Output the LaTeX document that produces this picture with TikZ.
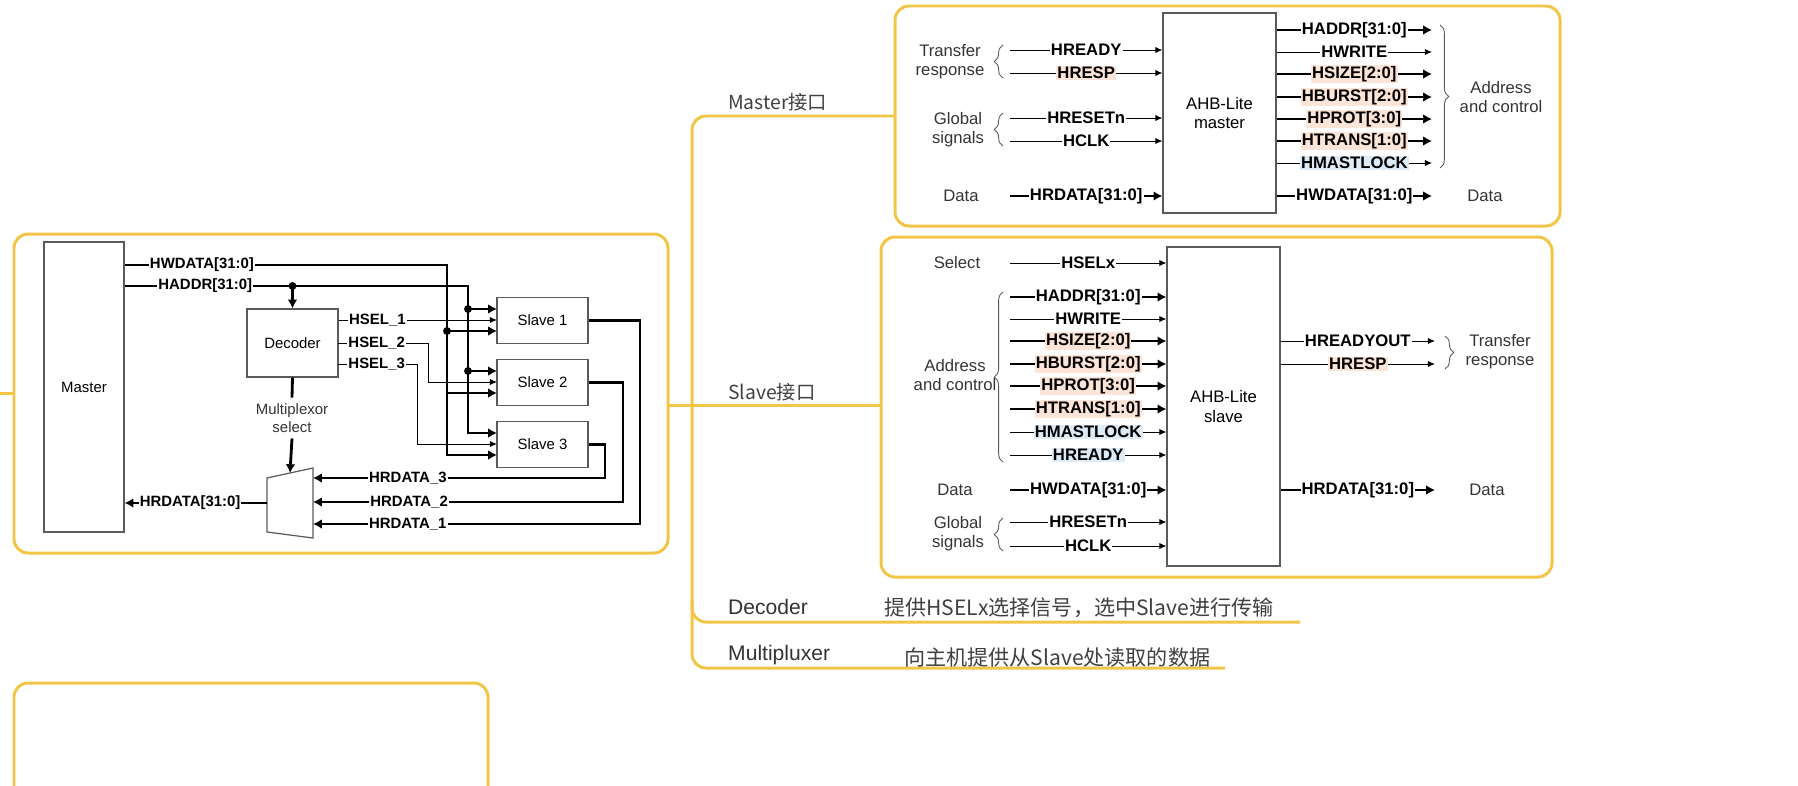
\documentclass[tikz,border=0pt]{standalone}
\usepackage{fontspec}
\setmainfont{Liberation Sans}
\newfontfamily\cjk{Noto Sans CJK SC}
\usetikzlibrary{positioning, arrows.meta, decorations.pathreplacing}
\definecolor{mapline}{RGB}{242,197,70}
\definecolor{hlo}{RGB}{252,228,214}
\definecolor{hlb}{RGB}{221,235,247}
\definecolor{boxline}{RGB}{90,90,90}
\tikzset{
  box/.style={draw=boxline, line width=0.7pt, inner sep=0pt, align=center, font=\fontsize{8.5}{10}\selectfont},
  sig/.style={font=\bfseries\fontsize{8.5}{10}\selectfont, fill=white, inner sep=0.6pt},
  rsig/.style={font=\bfseries\fontsize{9.5}{11}\selectfont, fill=white, inner sep=0.6pt},
  txt/.style={align=center, font=\fontsize{8.5}{10}\selectfont, text=black!80},
  rtxt/.style={align=center, font=\fontsize{9.5}{11}\selectfont, text=black!80},
  thin/.style={line width=0.5pt, -{Latex[length=4pt,width=3.5pt]}},
  bus/.style={line width=1.6pt, -{Latex[length=5pt,width=5.5pt]}},
  wire/.style={line width=1.6pt},
  dot/.style={circle, fill, inner sep=0pt, minimum size=4.5pt},
  branch/.style={draw=mapline, line width=1.7pt, rounded corners=8pt},
  topic/.style={anchor=west, font=\fontsize{12}{14}\selectfont, text=black!80},
  note/.style={anchor=west, font=\cjk\fontsize{12}{14}\selectfont, text=black!75},
  grp/.style={decorate, decoration={brace, amplitude=5pt}, line width=0.5pt, draw=boxline},
}
\begin{document}
\begin{tikzpicture}[x=0.02cm, y=-0.02cm]
\useasboundingbox (0,0) rectangle (1798,785);

% mind map branches
\draw[branch] (14,553) rectangle (668,234);
\draw[branch] (0,393) -- (14,393);
\draw[branch] (668,405) -- (692,405);
\draw[branch] (895,116) -| (692,622) -- (1300,622);
\draw[branch] (692,600) |- (1225,668);
\draw[branch] (692,405) -- (881,405);
\draw[branch] (895,6) rectangle (1560,226);
\draw[branch] (881,237) rectangle (1552,577);
\draw[branch] (14,800) |- (488,683) -- (488,800);
\node[note, font=\cjk\fontsize{11}{13}\selectfont] (tmaster) at (722,102) {Master接口};
\node[note, font=\cjk\fontsize{11}{13}\selectfont] (tslave) at (722,392) {Slave接口};
\node[topic] (tdec) at (722,607) {Decoder};
\node[note] (ndec) at (878,608) {提供HSELx选择信号，选中Slave进行传输};
\node[topic] (tmux) at (722,655) {Multipluxer};
\node[note] (nmux) at (898,657) {向主机提供从Slave处读取的数据};

% left: bus system
\node[box, minimum width=1.6cm, minimum height=5.8cm] (master) at (84,387) {Master};
\node[box, minimum width=1.82cm, minimum height=1.36cm] (decoder) at (292.5,343) {Decoder};
\node[box, minimum width=1.82cm, minimum height=0.92cm] (slave1) at (542.5,320.5) {Slave 1};
\node[box, minimum width=1.82cm, minimum height=0.92cm] (slave2) at (542.5,382.5) {Slave 2};
\node[box, minimum width=1.82cm, minimum height=0.92cm] (slave3) at (542.5,444.5) {Slave 3};
\draw[draw=boxline, line width=0.7pt] (267,478) -- (313,468) -- (313,538) -- (267,532) -- cycle;
\coordinate (muxt) at (290,473);
\coordinate (muxo) at (267,503);
\coordinate (wd) at (447,265);
\coordinate (ad) at (468,286);
\foreach \s/\y in {1/309, 2/371, 3/433} {
  \coordinate (s\s a) at (497,\y);
  \coordinate (s\s s) at (497,\y+11);
  \coordinate (s\s d) at (497,\y+22);
}
\draw[bus] (master.east |- wd) -- node[sig, pos=0.24] {HWDATA[31:0]} (wd) |- (s3d);
\draw[bus] (master.east |- ad) -- node[sig, pos=0.235] {HADDR[31:0]} (ad) |- (s3a);
\draw[bus] (wd |- s1d) -- (s1d);
\draw[bus] (wd |- s2d) -- (s2d);
\draw[bus] (ad |- s1a) -- (s1a);
\draw[bus] (ad |- s2a) -- (s2a);
\draw[bus] (decoder.north |- ad) -- (decoder.north);
\node[dot] at (decoder.north |- ad) {};
\node[dot] at (wd |- s1d) {};
\node[dot] at (ad |- s1a) {};
\node[dot] at (ad |- s2a) {};
\draw[thin] (decoder.east |- s1s) -- node[sig, pos=0.245] {HSEL\_1} (s1s);
\draw[thin] (338,343) -- node[sig, pos=0.43] {HSEL\_2} (428,343) |- (s2s);
\draw[thin] (338,364) -- node[sig, pos=0.49] {HSEL\_3} (417,364) |- (s3s);
\coordinate (r3) at (605,478);
\coordinate (r2) at (623,502);
\coordinate (r1) at (640,524);
\draw[bus] (slave3.east) -| (r3) -- node[sig, pos=0.675] {HRDATA\_3} (313,478);
\draw[bus] (slave2.east) -| (r2) -- node[sig, pos=0.69] {HRDATA\_2} (313,502);
\draw[bus] (slave1.east) -| (r1) -- node[sig, pos=0.71] {HRDATA\_1} (313,524);
\draw[bus] (muxo) -- node[sig, pos=0.54] {HRDATA[31:0]} (master.east |- muxo);
\node[txt] (msel) at (292,418) {Multiplexor\\select};
\draw[wire] (decoder.south) -- (msel.north);
\draw[bus] (msel.south) -- (muxt);

% top right: master interface
\node[box, minimum width=2.26cm, minimum height=4cm, font=\fontsize{9.5}{11}\selectfont] (mbox) at (1219.5,113) {AHB-Lite\\master};
\foreach \i/\y/\t/\w/\c in {1/50/HREADY/thin/white, 2/73/HRESP/thin/hlo, 3/118/HRESETn/thin/white,
    4/141/HCLK/thin/white, 5/196/{HRDATA[31:0]}/bus/white} {
  \coordinate (ml\i) at (1010,\y);
  \draw[\w] (ml\i) -- node[rsig, fill=\c] (mlt\i) {\t} (ml\i -| mbox.west);
}
\foreach \i/\y/\t/\w/\c in {1/30/{HADDR[31:0]}/bus/white, 2/52/HWRITE/thin/white, 3/74/{HSIZE[2:0]}/bus/hlo,
    4/97/{HBURST[2:0]}/bus/hlo, 5/119/{HPROT[3:0]}/bus/hlo, 6/141/{HTRANS[1:0]}/bus/hlo,
    7/163/HMASTLOCK/thin/hlb, 8/196/{HWDATA[31:0]}/bus/white} {
  \coordinate (mr\i) at (1432,\y);
  \draw[\w] (mr\i -| mbox.east) -- node[rsig, fill=\c] (mrt\i) {\t} (mr\i);
}
\draw[grp] (1003,78) -- (1003,45);
\draw[grp] (1003,146) -- (1003,113);
\draw[grp] (1440,25) -- (1440,168);
\node[rtxt] (mtr) at (950,62) {Transfer\\response};
\node[rtxt] (mgs) at (958,130) {Global\\signals};
\node[rtxt] (mdi) at (961,196) {Data};
\node[rtxt] (mac) at (1501,97) {Address\\and control};
\node[rtxt] (mdo) at (1485,196) {Data};

% bottom right: slave interface
\node[box, minimum width=2.26cm, minimum height=6.38cm, font=\fontsize{9.5}{11}\selectfont] (sbox) at (1223.5,406.5) {AHB-Lite\\slave};
\foreach \i/\y/\t/\w/\c in {1/263/HSELx/thin/white, 2/297/{HADDR[31:0]}/bus/white, 3/319/HWRITE/thin/white,
    4/341/{HSIZE[2:0]}/bus/hlo, 5/364/{HBURST[2:0]}/bus/hlo, 6/386/{HPROT[3:0]}/bus/hlo,
    7/409/{HTRANS[1:0]}/bus/hlo, 8/432/HMASTLOCK/thin/hlb, 9/455/HREADY/thin/hlb,
    10/490/{HWDATA[31:0]}/bus/white, 11/522/HRESETn/thin/white, 12/546/HCLK/thin/white} {
  \coordinate (sl\i) at (1010,\y);
  \draw[\w] (sl\i) -- node[rsig, fill=\c] (slt\i) {\t} (sl\i -| sbox.west);
}
\foreach \i/\y/\t/\w/\c in {1/341/HREADYOUT/thin/white, 2/364/HRESP/thin/hlo, 3/490/{HRDATA[31:0]}/bus/white} {
  \coordinate (sr\i) at (1435,\y);
  \draw[\w] (sr\i -| sbox.east) -- node[rsig, fill=\c] (srt\i) {\t} (sr\i);
}
\draw[grp] (1003,462) -- (1003,292);
\draw[grp] (1003,551) -- (1003,518);
\draw[grp] (1445,336) -- (1445,369);
\node[rtxt] (ssel) at (957,263) {Select};
\node[rtxt] (sac) at (955,375) {Address\\and control};
\node[rtxt] (sdi) at (955,490) {Data};
\node[rtxt] (sgs) at (958,534) {Global\\signals};
\node[rtxt] (str) at (1500,352) {Transfer\\response};
\node[rtxt] (sdo) at (1487,490) {Data};
\end{tikzpicture}
\end{document}
